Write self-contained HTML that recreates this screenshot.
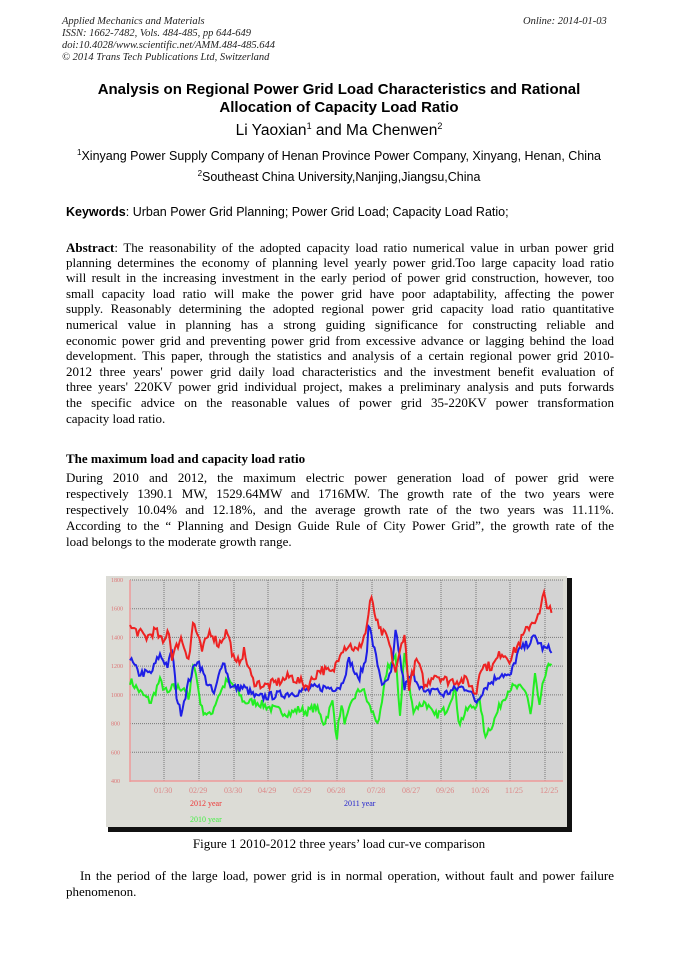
<!DOCTYPE html>
<html><head><meta charset="utf-8"><style>
body{margin:0;width:678px;height:959px;background:#fff;position:relative;overflow:hidden;font-family:"Liberation Serif",serif;color:#000}
.l{position:absolute;left:66px;width:548px;font-size:13px;line-height:15px;white-space:nowrap}
.j{text-align:justify;text-align-last:justify;white-space:normal}
.h{position:absolute;left:62px;font-size:10.5px;font-style:italic;line-height:12px;color:#222}
.c{position:absolute;left:0;width:678px;text-align:center;font-family:"Liberation Sans",sans-serif;white-space:nowrap}
</style></head><body>
<div class="h" style="top:16px">Applied Mechanics and Materials<br>ISSN: 1662-7482, Vols. 484-485, pp 644-649<br>doi:10.4028/www.scientific.net/AMM.484-485.644<br>© 2014 Trans Tech Publications Ltd, Switzerland</div>
<div class="h" style="top:16px;left:523px">Online: 2014-01-03</div>
<div class="c" style="top:81px;font-size:15px;font-weight:bold;line-height:18px">Analysis on Regional Power Grid Load Characteristics and Rational<br>Allocation of Capacity Load Ratio</div>
<div class="c" style="top:121px;font-size:15.5px">Li Yaoxian<sup style="font-size:9px">1</sup> and Ma Chenwen<sup style="font-size:9px">2</sup></div>
<div class="c" style="top:148px;font-size:12.5px"><sup style="font-size:8px">1</sup>Xinyang Power Supply Company of Henan Province Power Company, Xinyang, Henan, China</div>
<div class="c" style="top:169px;font-size:12.5px"><sup style="font-size:8px">2</sup>Southeast China University,Nanjing,Jiangsu,China</div>
<div class="l" style="top:205px;font-family:'Liberation Sans',sans-serif;font-size:12.5px"><b>Keywords</b>: Urban Power Grid Planning; Power Grid Load; Capacity Load Ratio;</div>
<div class="l j" style="top:240px"><b>Abstract</b>: The reasonability of the adopted capacity load ratio numerical value in urban power grid</div>
<div class="l j" style="top:255px">planning determines the economy of planning level yearly power grid.Too large capacity load ratio</div>
<div class="l j" style="top:270px">will result in the increasing investment in the early period of power grid construction, however, too</div>
<div class="l j" style="top:286px">small capacity load ratio will make the power grid have poor adaptability, affecting the power</div>
<div class="l j" style="top:301px">supply. Reasonably determining the adopted regional power grid capacity load ratio quantitative</div>
<div class="l j" style="top:317px">numerical value in planning has a strong guiding significance for constructing reliable and</div>
<div class="l j" style="top:333px">economic power grid and preventing power grid from excessive advance or lagging behind the load</div>
<div class="l j" style="top:348px">development. This paper, through the statistics and analysis of a certain regional power grid 2010-</div>
<div class="l j" style="top:364px">2012 three years' power grid daily load characteristics and the investment benefit evaluation of</div>
<div class="l j" style="top:379px">three years' 220KV power grid individual project, makes a preliminary analysis and puts forwards</div>
<div class="l j" style="top:395px">the specific advice on the reasonable values of power grid 35-220KV power transformation</div>
<div class="l" style="top:411px">capacity load ratio.</div>
<div class="l" style="top:451px;font-weight:bold">The maximum load and capacity load ratio</div>
<div class="l j" style="top:470px">During 2010 and 2012, the maximum electric power generation load of power grid were</div>
<div class="l j" style="top:486px">respectively 1390.1 MW, 1529.64MW and 1716MW. The growth rate of the two years were</div>
<div class="l j" style="top:502px">respectively 10.04% and 12.18%, and the average growth rate of the two years was 11.11%.</div>
<div class="l j" style="top:518px">According to the “ Planning and Design Guide Rule of City Power Grid”, the growth rate of the</div>
<div class="l" style="top:534px">load belongs to the moderate growth range.</div>
<svg style="position:absolute;left:0;top:0" width="678" height="959" id="s">
<rect x="108" y="578" width="464" height="254" fill="#111"/>
<rect x="106" y="576" width="461" height="251" fill="#dcdcd6"/>
<rect x="130" y="580" width="433" height="201" fill="#d3d3d3"/>
<g id="grid" stroke="#777" stroke-dasharray="1,1" stroke-width="1"></g>
<g font-size="6" fill="#d77" font-family="Liberation Serif" id="yl"></g>
<g font-size="8" fill="#d88" font-family="Liberation Serif" id="xl"></g>
<line x1="130" y1="580" x2="130" y2="782" stroke="#e99" stroke-width="1.5"/>
<line x1="130" y1="781" x2="563" y2="781" stroke="#e99" stroke-width="1.5"/>
<polyline id="g" fill="none" stroke="#22ee22" stroke-width="2"/>
<polyline id="b" fill="none" stroke="#1e1ee6" stroke-width="2"/>
<polyline id="r" fill="none" stroke="#ee2222" stroke-width="2"/>
<text x="190" y="806" font-size="8" fill="#e33" font-family="Liberation Serif">2012 year</text>
<text x="344" y="806" font-size="8" fill="#22c" font-family="Liberation Serif">2011 year</text>
<text x="190" y="822" font-size="8" fill="#4e4" font-family="Liberation Serif">2010 year</text>
</svg>
<div class="c" style="top:836px;font-family:'Liberation Serif',serif;font-size:13px">Figure 1 2010-2012 three years’ load cur-ve comparison</div>
<div class="l j" style="top:868px;text-indent:14px">In the period of the large load, power grid is in normal operation, without fault and power failure</div>
<div class="l" style="top:884px">phenomenon.</div>
<script>
var NS="http://www.w3.org/2000/svg";
function el(p,t,a,tx){var e=document.createElementNS(NS,t);for(var k in a)e.setAttribute(k,a[k]);if(tx)e.textContent=tx;document.getElementById(p).appendChild(e);}
function Y(v){return 580+(1800-v)/1400*201;}
for(var v=400;v<=1800;v+=200){var y=Y(v);el("grid","line",{x1:130,x2:563,y1:y,y2:y});el("yl","text",{x:111,y:y+2},String(v));}
var xs=[130,164,199,234,268,303,337,372,407,441,476,510,545];
xs.forEach(function(x){el("grid","line",{x1:x,x2:x,y1:580,y2:781});});
var lab=["01/30","02/29","03/30","04/29","05/29","06/28","07/28","08/27","09/26","10/26","11/25","12/25"];
lab.forEach(function(s,i){var x=xs[i+1]+(i>5?5:0);el("xl","text",{x:x-10,y:793},s);});
var seed=7;function rnd(){seed=(seed*16807)%2147483647;return seed/2147483647;}
function draw(id,k,amp){var pts=[];for(var x=130;x<=552;x+=1.5){var t=(x-130)/422,i=0;while(i<k.length-2&&k[i+1][0]<t)i++;var a=k[i],b=k[i+1];var f=(t-a[0])/(b[0]-a[0]);f=Math.max(0,Math.min(1,f));var v=a[1]+(b[1]-a[1])*f+(rnd()-0.5)*amp;pts.push(x.toFixed(1)+","+Y(v).toFixed(1));}document.getElementById(id).setAttribute("points",pts.join(" "));}
draw("g",[[0,1100],[.03,1000],[.05,950],[.07,1100],[.09,1000],[.1,1050],[.13,1050],[.14,950],[.15,1250],[.17,900],[.19,850],[.21,1000],[.23,1100],[.25,1050],[.27,950],[.3,950],[.34,900],[.38,870],[.4,900],[.42,880],[.44,920],[.46,800],[.48,950],[.49,700],[.5,930],[.51,800],[.53,980],[.55,1050],[.57,900],[.59,800],[.61,1200],[.63,1250],[.64,850],[.65,1300],[.67,900],[.7,950],[.72,850],[.75,900],[.77,1050],[.78,800],[.8,900],[.83,950],[.84,720],[.86,800],[.88,950],[.9,1050],[.92,1050],[.94,1020],[.95,850],[.96,1150],[.97,900],[.98,1100],[1,1250]],60);
draw("b",[[0,1250],[.02,1150],[.05,1150],[.07,1280],[.09,1200],[.1,1320],[.11,1000],[.12,870],[.14,1100],[.16,1250],[.18,1100],[.2,1000],[.22,1250],[.24,1050],[.27,1050],[.3,980],[.35,1000],[.4,1020],[.44,1050],[.48,1050],[.5,1060],[.52,1250],[.54,1100],[.56,1250],[.565,1500],[.58,1300],[.6,1050],[.62,1150],[.63,1450],[.65,1050],[.67,1150],[.7,1000],[.72,1050],[.74,1000],[.78,1050],[.8,1050],[.82,950],[.84,1050],[.86,1100],[.88,1150],[.9,1120],[.92,1300],[.94,1350],[.96,1400],[.98,1320],[1,1320]],60);
draw("r",[[0,1470],[.04,1400],[.06,1450],[.08,1350],[.09,1480],[.1,1260],[.12,1400],[.14,1250],[.15,1520],[.17,1300],[.19,1450],[.21,1350],[.23,1450],[.25,1200],[.27,1300],[.29,1100],[.32,1060],[.36,1100],[.38,1130],[.42,1060],[.45,1180],[.48,1150],[.5,1320],[.52,1350],[.54,1300],[.56,1450],[.57,1680],[.59,1450],[.61,1400],[.63,1150],[.65,1450],[.66,1050],[.68,1250],[.7,1050],[.72,1150],[.75,1100],[.8,1100],[.82,1000],[.83,1200],[.86,1200],[.88,1300],[.9,1250],[.93,1400],[.95,1500],[.97,1550],[.98,1700],[1,1550]],70);
</script>
</body></html>
